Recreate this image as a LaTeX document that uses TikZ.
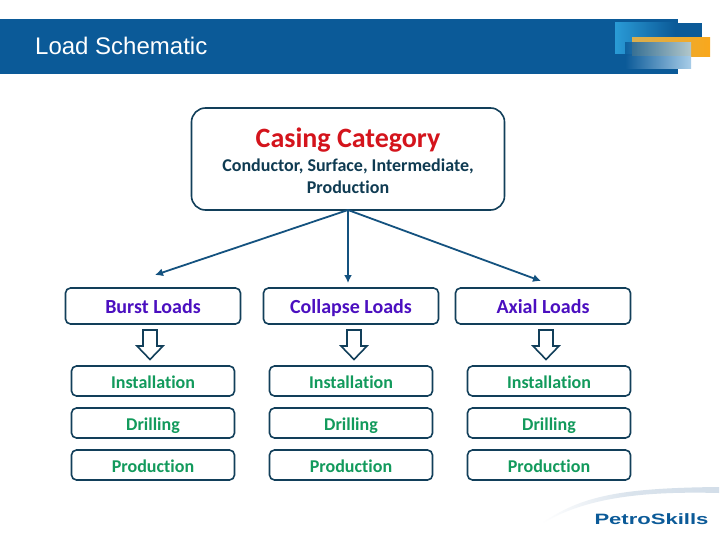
\documentclass[tikz,border=0pt]{standalone}
\usepackage{fontspec}
\setmainfont[Ligatures=NoCommon,Contextuals=NoAlternate]{Carlito}
\newfontfamily\arialf{Liberation Sans}
\usetikzlibrary{arrows.meta}
\definecolor{band}{HTML}{0B5A98}
\definecolor{edge}{HTML}{123F5A}
\definecolor{arrowc}{HTML}{14527F}
\definecolor{redt}{HTML}{D4141C}
\definecolor{purp}{HTML}{4B0FC0}
\definecolor{greent}{HTML}{129A5C}
\definecolor{darkt}{HTML}{0F3B52}
\definecolor{skyl}{HTML}{2A9BD6}
\definecolor{skym}{HTML}{1FA0DC}
\definecolor{skyp}{HTML}{A8CDE8}
\definecolor{ordull}{HTML}{D8AE50}
\definecolor{orbright}{HTML}{F9A81C}
\definecolor{swoosh}{HTML}{D3DEE9}
\tikzset{
 x=1pt,y=-1pt,
 boxbase/.style={draw=edge,line width=1.6pt,rounded corners=5pt,fill=white,align=center,inner sep=0pt},
 loadbox/.style={boxbase,minimum width=175pt,minimum height=36pt,text=purp,text height=17pt,text depth=2pt,font=\bfseries\fontsize{20}{22}\selectfont},
 subbox/.style={boxbase,minimum width=163pt,minimum height=30pt,text=greent,text height=14pt,text depth=0pt,font=\bfseries\fontsize{18}{20}\selectfont},
 conn/.style={draw=arrowc,line width=1.8pt,-{Latex[length=8pt,width=8pt]}},
 hollow/.style={draw=edge,line width=1.6pt,fill=white,line join=miter},
}
\begin{document}
\begin{tikzpicture}
\useasboundingbox (0,0) rectangle (720,540);
\fill[white] (0,0) rectangle (720,540);
% banner
\fill[band] (0,19) rectangle (678,74);
\fill[band] (678,23) rectangle (702,54);
\shade[left color=skyl,right color=band] (615,23) rectangle (675,54);
\shade[left color=ordull,right color=orbright] (632,38) rectangle (710,57);
\shade[left color=band,middle color=skym,right color=skyp,opacity=.85] (625,43) rectangle (691,57);
\shade[left color=band,middle color=skym,right color=skyp] (625,57) rectangle (691,69);
\node[text=white,font=\arialf\fontsize{24}{26}\selectfont,anchor=west,inner sep=0pt] (title) at (35,45.5) {Load Schematic};
% logo swoosh
\shade[left color=white,right color=swoosh,middle color=swoosh!85!white] (541,524) .. controls (580,496) and (620,488) .. (719,487) -- (719,493) .. controls (640,491) and (585,498) .. (541,524) -- cycle;
\node[text=band,font=\arialf\bfseries\fontsize{15}{16}\selectfont,anchor=center,inner sep=0pt,xscale=1.47] (logo) at (651.5,519) {PetroSkills};
% main
\node[boxbase,minimum width=313pt,minimum height=102pt,rounded corners=14pt] (cat) at (348,159) {};
\node[text=redt,font=\bfseries\fontsize{28}{30}\selectfont,inner sep=0pt] (cath) at (348,140) {Casing Category};
\node[text=darkt,font=\bfseries\fontsize{18}{22}\selectfont,align=center,inner sep=0pt] (catt) at (348,176) {Conductor, Surface, Intermediate,\\Production};
\coordinate (top) at (348,210);
\node[loadbox] (b) at (153,306) {Burst Loads};
\node[loadbox] (c) at (351,306) {Collapse Loads};
\node[loadbox] (a) at (543,306) {Axial Loads};
\coordinate (bt) at (155,275);
\coordinate (ct) at (348,283);
\coordinate (at) at (541,281);
\draw[conn] (top) -- (bt);
\draw[conn] (top) -- (ct);
\draw[conn] (top) -- (at);
\foreach \x/\n in {153/1,351/2,549/3}{
 \node[subbox] (i\n) at (\x,381) {Installation};
 \node[subbox] (d\n) at (\x,423) {Drilling};
 \node[subbox] (p\n) at (\x,465) {Production};
}
\foreach \x in {150,354,546}{
 \draw[hollow] (\x-7,330) -- (\x+7,330) -- (\x+7,346) -- (\x+13,346) -- (\x,359.5) -- (\x-13,346) -- (\x-7,346) -- cycle;
}
\end{tikzpicture}
\end{document}
